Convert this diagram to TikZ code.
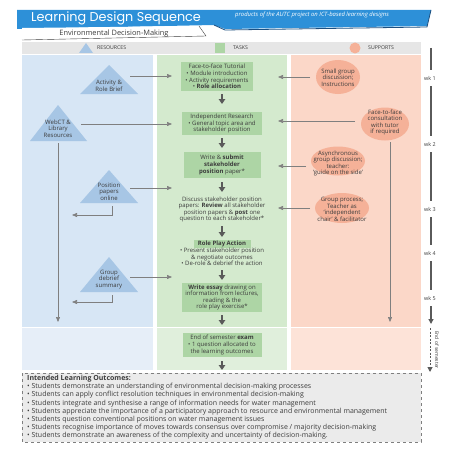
\documentclass[tikz,border=0pt]{standalone}
\usepackage{fontspec}
\setmainfont{Open Sans}
\newfontfamily\titlefont{Poppins}
\usetikzlibrary{arrows.meta}
\definecolor{ink}{HTML}{3C3C3C}
\definecolor{bannerblue}{HTML}{2D90D8}
\definecolor{bannerdark}{HTML}{1C4F80}
\definecolor{legendgray}{HTML}{E6E6E6}
\definecolor{colblue}{HTML}{D7E6F5}
\definecolor{colbluelow}{HTML}{E6EEF8}
\definecolor{triblue}{HTML}{A7C6E5}
\definecolor{colgreen}{HTML}{D4EACE}
\definecolor{colgreenlow}{HTML}{E0EFDC}
\definecolor{boxgreen}{HTML}{ADD5A5}
\definecolor{colorange}{HTML}{FBD7C8}
\definecolor{colorangelow}{HTML}{FDE3D8}
\definecolor{ellorange}{HTML}{F5B198}
\definecolor{wire}{HTML}{7F7F7F}
\definecolor{flowgray}{HTML}{5A5A5A}
\definecolor{outfill}{HTML}{EBEBEB}
\begin{document}
\begin{tikzpicture}[x=1pt,y=-1pt,
    every node/.style={inner sep=0pt, align=center, text=ink, font=\fontsize{6}{6.6}\selectfont},
    taskbox/.style={fill=boxgreen},
    feed/.style={draw=wire, line width=0.6pt, -{Triangle[width=4pt,length=5pt]}},
    flow/.style={draw=flowgray, line width=1.8pt, -{Triangle[width=6.5pt,length=5pt]}},
    wkmark/.style={inner ysep=6pt, font=\fontsize{5.4}{6.5}\selectfont},
    tline/.style={draw=flowgray, line width=1.3pt},
]
\useasboundingbox (0,0) rectangle (452,452);

% header banner
\fill[bannerblue] (17,10) -- (431,10) -- (427,26) -- (225,29) -- (214,25) -- (17,29) -- cycle;
\draw[bannerdark, line width=0.8pt] (214,25) -- (225,30) -- (427,27) -- (431,10);
\fill[white] (22,28) -- (199,26) -- (206,36) -- (22,40) -- cycle;
\draw[ink, line width=0.4pt] (22,40) -- (206,36) -- (199,26);
\node[anchor=west, text=white, font=\titlefont\fontsize{12.8}{14}\selectfont] (title) at (31,18) {Learning Design Sequence};
\node[anchor=west, text=white, font=\itshape\fontsize{5.9}{6.5}\selectfont] (project) at (235,15) {products of the AUTC project on ICT-based learning designs};
\node[font=\fontsize{7.4}{8}\selectfont] (module) at (114,33.5) {Environmental Decision-Making};

% legend
\fill[legendgray] (22,42) rectangle (421,54);
\fill[triblue] (86,43) -- (93,53) -- (79,53) -- cycle;
\node[anchor=west, font=\fontsize{5.2}{6}\selectfont] (lres) at (97,48) {RESOURCES};
\fill[boxgreen] (215,43) rectangle (225,53);
\node[anchor=west, font=\fontsize{5.2}{6}\selectfont] (ltask) at (233,48) {TASKS};
\fill[ellorange] (355,48) circle (5.5);
\node[anchor=west, font=\fontsize{5.2}{6}\selectfont] (lsup) at (368,48) {SUPPORTS};

% columns
\fill[colblue] (22,55) rectangle (153,327);
\fill[colgreen] (157,55) rectangle (287,327);
\fill[colorange] (291,55) rectangle (421,327);
\fill[colbluelow] (22,328) rectangle (153,370);
\fill[colgreenlow] (157,328) rectangle (287,370);
\fill[colorangelow] (291,328) rectangle (421,370);
\draw[white, dashed, line width=0.8pt] (22,327.5) -- (421,327.5);

% resources
\fill[triblue] (109,65) -- (138,94) -- (80,94) -- cycle;
\node (brief) at (109,86) {Activity \&\\Role Brief};
\fill[triblue] (58,105) -- (87,141) -- (30,141) -- cycle;
\node (webct) at (58,128.5) {WebCT \&\\Library\\Resources};
\fill[triblue] (109,170) -- (138,203) -- (80,203) -- cycle;
\node (posn) at (109,191.5) {Position\\papers\\online};
\fill[triblue] (109,257) -- (138,292) -- (80,292) -- cycle;
\node (debrief) at (109,279.5) {Group\\debrief\\summary};

% tasks
\node[taskbox, minimum width=72, minimum height=29] (tut) at (217,76.5)
  {Face-to-face Tutorial\\• Module introduction\\• Activity requirements\\• \textbf{Role allocation}};
\node[taskbox, minimum width=80, minimum height=23] (research) at (222,123.5)
  {Independent Research\\• General topic area and\\stakeholder position};
\node[taskbox, minimum width=77, minimum height=26] (submit) at (222,165)
  {Write \& \textbf{submit}\\\textbf{stakeholder}\\\textbf{position} paper*};
\node (discuss) at (222,209.5)
  {Discuss stakeholder position\\papers: \textbf{Review} all stakeholder\\position papers \& \textbf{post} one\\question to each stakeholder*};
\node[taskbox, minimum width=57, minimum height=8] (role) at (222,244)
  {\textbf{Role Play Action}};
\node[anchor=north] (roleitems) at (222,248)
  {• Present stakeholder position\\\& negotiate outcomes\\• De-role \& debrief the action};
\node[taskbox, minimum width=80, minimum height=29] (essay) at (222,297.5)
  {\textbf{Write essay} drawing on\\information from lectures,\\reading \& the\\role play exercise*};
\node[taskbox, minimum width=79, minimum height=24] (exam) at (222,345)
  {End of semester \textbf{exam}\\• 1 question allocated to\\the learning outcomes};
\coordinate (essay-end) at (222,325);
\coordinate (exam-end) at (222,370);

% supports
\fill[ellorange] (338,77) ellipse [x radius=22, y radius=17];
\node (small) at (338,77.5) {Small group\\discussion;\\Instructions};
\fill[ellorange] (385,124) ellipse [x radius=24, y radius=16.5];
\node (consult) at (385,122.5) {Face-to-face\\consultation\\with tutor\\if required};
\fill[ellorange] (338,161) ellipse [x radius=27, y radius=14.5];
\node (async) at (338,163.5) {Asynchronous\\group discussion;\\teacher:\\`guide on the side'};
\fill[ellorange] (342,208) ellipse [x radius=27, y radius=15];
\node (group) at (342,209.5) {Group process;\\Teacher as\\`independent\\chair' \& facilitator};

% connectors
\coordinate (ltip) at (172,0);
\coordinate (rtip) at (278,0);
\coordinate (colend) at (0,322);
\coordinate (brief-out) at (130,76);
\coordinate (webct-out) at (81,124);
\coordinate (posn-out) at (130,188);
\coordinate (debrief-out) at (130,277);
\coordinate (small-out) at (310,77);
\coordinate (consult-out) at (355,121);
\coordinate (async-out) at (306,166);
\coordinate (group-out) at (310,208);
\draw[feed] (brief-out) -- (brief-out -| ltip);
\draw[feed] (webct-out) -- (webct-out -| ltip);
\draw[feed] (posn-out) -- (posn-out -| ltip);
\draw[feed] (debrief-out) -- (debrief-out -| ltip);
\draw[feed] (small-out) -- (small-out -| rtip);
\draw[feed] (consult-out) -- (consult-out -| rtip);
\draw[feed] (async-out) -- (async-out -| rtip);
\draw[feed] (group-out) -- (group-out -| rtip);
\draw[feed] (58,143) -- (58,143 |- colend);
\draw[feed] (390,142) -- (390,142 |- colend);
\draw[feed] (112,206) -- (112,215) -- (72,215);
\draw[feed] (112,295) -- (112,302) -- (72,302);

% flow of tasks
\draw[flow] (222,94) -- (222,104);
\draw[flow] (222,138) -- (222,148);
\draw[flow] (222,182) -- (222,192);
\draw[flow] (222,226) -- (222,237);
\draw[flow] (222,270) -- (222,280);
\draw[flow] (222,315) -- (essay-end);
\draw[flow] (222,361) -- (exam-end);

% timeline
\node[wkmark] (wk1) at (430,78) {wk 1};
\node[wkmark] (wk2) at (430,144) {wk 2};
\node[wkmark] (wk3) at (430,209) {wk 3};
\node[wkmark] (wk4) at (430,253) {wk 4};
\node[wkmark] (wk5) at (430,298) {wk 5};
\draw[tline] (431,48) -- (wk1.north -| 431,0);
\draw[tline] (wk1.south -| 431,0) -- (wk2.north -| 431,0);
\draw[tline] (wk2.south -| 431,0) -- (wk3.north -| 431,0);
\draw[tline] (wk3.south -| 431,0) -- (wk4.north -| 431,0);
\draw[tline] (wk4.south -| 431,0) -- (wk5.north -| 431,0);
\draw[tline, -{Triangle[width=5pt,length=5pt]}] (wk5.south -| 431,0) -- (431,324);
\draw[tline, dashed, line width=1pt, -{Triangle[width=5pt,length=5pt]}, dash pattern=on 2pt off 1.5pt] (430,328) -- (430,372);
\node[rotate=-90, font=\fontsize{5}{6}\selectfont] (endsem) at (437,350) {End of semester};

% outcomes
\filldraw[fill=outfill, draw=wire, dashed, line width=0.5pt] (22,373) rectangle (421,442);
\node[anchor=north west, align=left, font=\fontsize{7}{8.2}\selectfont] (outcomes) at (27,375)
  {\textbf{Intended Learning Outcomes:}\\
   • Students demonstrate an understanding of environmental decision-making processes\\
   • Students can apply conflict resolution techniques in environmental decision-making\\
   • Students integrate and synthesise a range of information needs for water management\\
   • Students appreciate the importance of a participatory approach to resource and environmental management\\
   • Students question conventional positions on water management issues\\
   • Students recognise importance of moves towards consensus over compromise / majority decision-making\\
   • Students demonstrate an awareness of the complexity and uncertainty of decision-making.};
\end{tikzpicture}
\end{document}
